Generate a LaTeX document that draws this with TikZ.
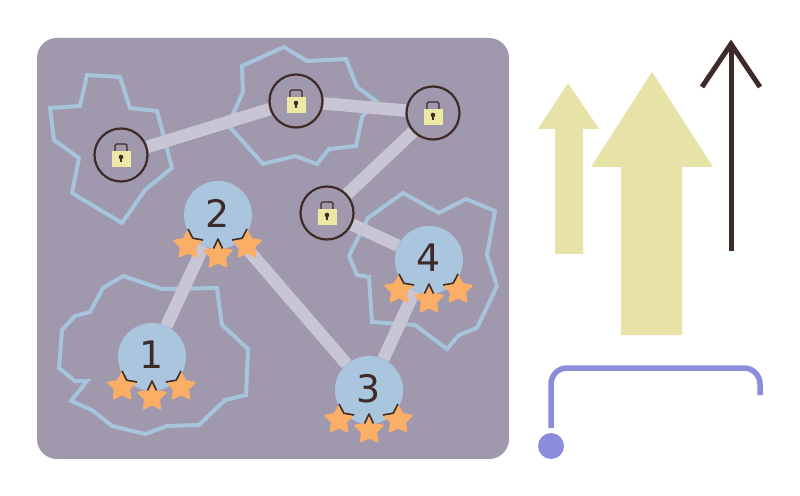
\documentclass[tikz,border=0pt]{standalone}
\usepackage{fontspec}
\setmainfont{DejaVu Sans}
\definecolor{card}{HTML}{A098AC}
\definecolor{blobline}{HTML}{A6C4DC}
\definecolor{link}{HTML}{C8C5D5}
\definecolor{hubfill}{HTML}{A9C6DE}
\definecolor{ink}{HTML}{3E2A28}
\definecolor{starfill}{HTML}{FBAE66}
\definecolor{padlock}{HTML}{ECE9A5}
\definecolor{bigarrow}{HTML}{E6E2A8}
\definecolor{violet}{HTML}{8B8CDC}
\pgfdeclarelayer{under}
\pgfdeclarelayer{links}
\pgfsetlayers{under,links,main}
\tikzset{
  x=1bp,y=-1bp,
  blob/.style={draw=blobline,line width=4bp,line join=miter},
  linkline/.style={draw=link,line width=12.5bp},
  lockring/.style={circle,draw=ink,line width=2.2bp,minimum size=53bp,inner sep=0pt},
  hub/.style={circle,fill=hubfill,minimum size=68bp,inner sep=0pt,text=ink,font=\fontsize{38}{40}\selectfont},
  starshape/.style={fill=starfill,draw=starfill,line width=1.5bp,line join=round},
  starmark/.style={draw=ink,line width=1.6bp,line join=round},
  arrowfill/.style={fill=bigarrow},
  inkarrow/.style={draw=ink,line width=5bp},
  violetline/.style={draw=violet,line width=5.5bp,rounded corners=16bp},
  violetdot/.style={circle,fill=violet,minimum size=26bp,inner sep=0pt}
}
\newcommand{\onestar}[3]{%
  \path[starshape,shift={(#1,#2)}] (0,-14.5)--(4.6,-6.2)--(14,-4.5)--(7.3,2.4)--(8.6,11.8)--(0,7.7)--(-8.6,11.8)--(-7.3,2.4)--(-14,-4.5)--(-4.6,-6.2)--cycle;
  \path[starmark,shift={(#1,#2)}] #3;}
\newcommand{\hubstars}[4]{%
  \node[hub] (#1) at (#2,#3) {\raisebox{4bp}{#4}};
  \onestar{#2-30}{#3+30}{(0,-16)--(4.8,-6.8)--(15,-5)}
  \onestar{#2}{#3+40}{(-4.5,-6.5)--(0,-16)--(4.5,-6.5)}
  \onestar{#2+29}{#3+30}{(0,-16)--(-4.8,-6.8)--(-15,-5)}}
\newcommand{\lockicon}[3]{%
  \node[lockring] (#1) at (#2,#3) {};
  \begin{scope}[shift={(#2,#3)}]
    \draw[ink,line width=1.4bp,rounded corners=1.5bp] (-6,-4)--(-6,-11)--(6,-11)--(6,-4);
    \fill[padlock] (-9.5,-4) rectangle (10,12);
    \fill[ink] (0,2) circle (2.3bp);
    \fill[ink] (-0.8,2)--(0.8,2)--(1,7)--(-1,7)--cycle;
  \end{scope}}
\begin{document}
\begin{tikzpicture}
\useasboundingbox (0,0) rectangle (800,496);
\begin{pgfonlayer}{under}
  \fill[white] (0,0) rectangle (800,496);
  \fill[card,rounded corners=20bp] (37,38) rectangle (509,459);
  \path[blob] (87,75)--(120,77)--(130,108)--(157,111)--(172,168)--(145,190)--(122,223)--(72,193)--(79,158)--(54,140)--(50,108)--(80,106)--cycle;
  \path[blob] (284,47)--(307,61)--(346,59)--(357,87)--(376,101)--(362,117)--(356,146)--(329,149)--(317,164)--(295,156)--(263,164)--(228,125)--(243,92)--(242,66)--cycle;
  \path[blob] (403,193)--(439,213)--(466,199)--(495,211)--(487,255)--(497,286)--(477,328)--(459,335)--(447,349)--(415,325)--(372,322)--(369,277)--(357,275)--(349,256)--(368,218)--cycle;
  \path[blob] (123,276)--(162,289)--(217,288)--(222,325)--(248,349)--(246,395)--(225,400)--(199,425)--(167,426)--(145,434)--(112,426)--(92,410)--(71,401)--(87,381)--(75,381)--(59,368)--(62,330)--(75,316)--(90,312)--(103,288)--cycle;
\end{pgfonlayer}

\lockicon{lockA}{121}{155}
\lockicon{lockB}{296}{101}
\lockicon{lockC}{433}{113}
\lockicon{lockD}{327}{213}

\hubstars{hubTwo}{218}{215}{2}
\hubstars{hubOne}{152}{357}{1}
\hubstars{hubThree}{369}{390}{3}
\hubstars{hubFour}{429}{260}{4}

\begin{pgfonlayer}{links}
  \draw[linkline] (lockA)--(lockB);
  \draw[linkline] (lockB)--(lockC);
  \draw[linkline] (lockC)--(lockD);
  \draw[linkline] (lockD)--(hubFour);
  \draw[linkline] (hubTwo)--(hubOne);
  \draw[linkline] (hubTwo)--(hubThree);
  \draw[linkline] (hubThree)--(hubFour);
\end{pgfonlayer}

\fill[arrowfill] (568,83)--(599,129)--(583,129)--(583,254)--(555,254)--(555,129)--(538,129)--cycle;
\fill[arrowfill] (652,72)--(713,167)--(682,167)--(682,335)--(621,335)--(621,167)--(591,167)--cycle;
\draw[inkarrow] (731,251)--(731,44);
\draw[inkarrow] (702,87)--(731,44)--(760,87);

\node[violetdot] (dot) at (551,446) {};
\coordinate (bracketStart) at (551,428);
\coordinate (bracketEnd) at (760,395);
\draw[violetline] (bracketStart)--(551,368)--(760,368)--(bracketEnd);
\end{tikzpicture}
\end{document}
